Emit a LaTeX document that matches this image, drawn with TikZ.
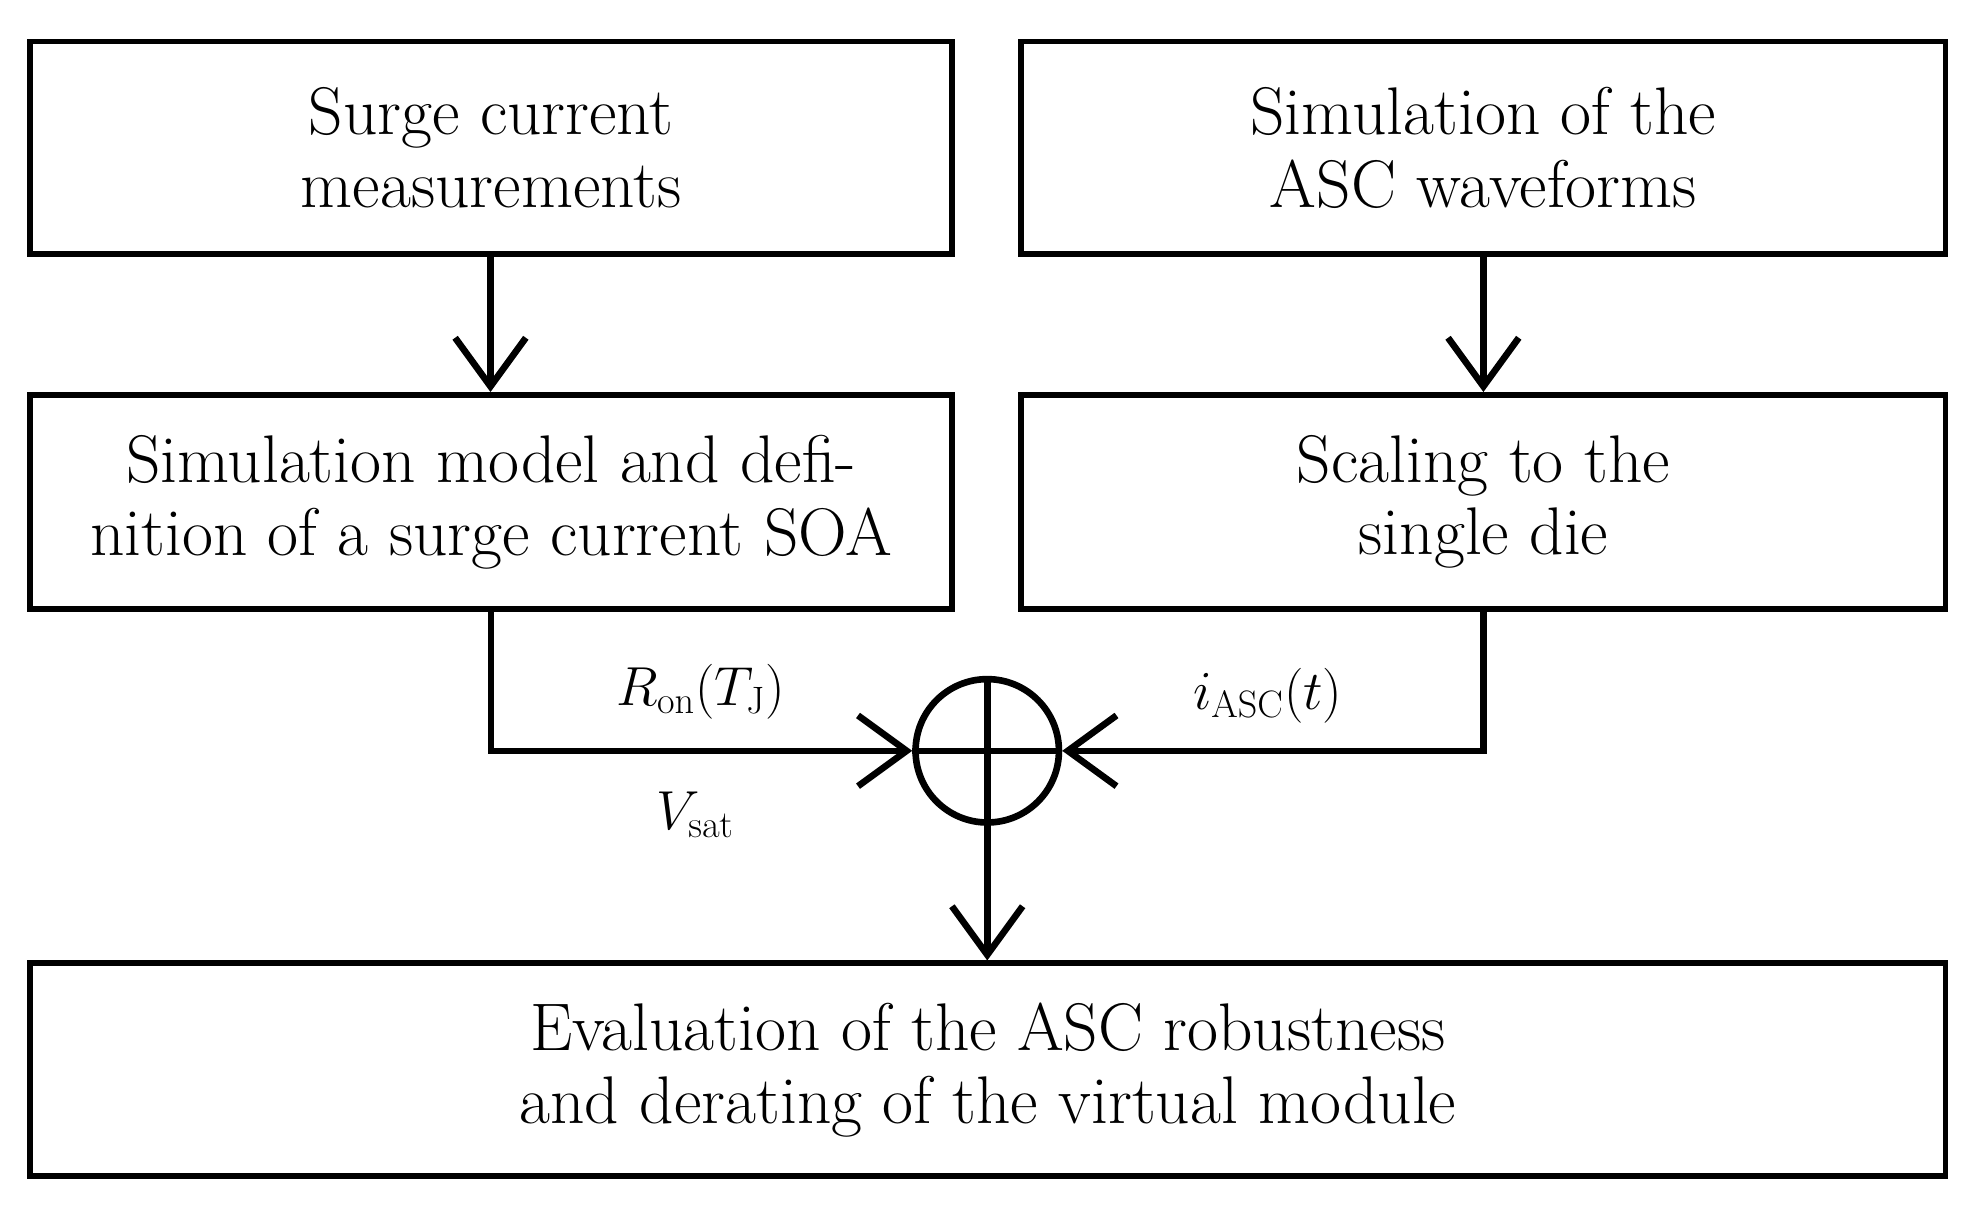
\documentclass[tikz,border=0pt]{standalone}
\usetikzlibrary{arrows.meta}
\begin{document}
\begin{tikzpicture}[x=0.02cm,y=-0.02cm,
  box/.style={draw,line width=2.6pt,inner sep=0pt,align=center,font=\fontsize{30.5}{33}\selectfont},
  conn/.style={line width=3pt},
  arr/.style={conn,-{Straight Barb[length=22pt,width=32pt,line width=3pt]}},
  lbl/.style={font=\fontsize{26}{30}\selectfont}]
\useasboundingbox (0,0) rectangle (1568,959);
\node[box,minimum width=733*0.02cm,minimum height=169*0.02cm] (b1) at (390.5,117.5) {Surge current\\measurements};
\node[box,minimum width=735*0.02cm,minimum height=169*0.02cm] (b2) at (1179.5,117.5) {Simulation of the\\ASC waveforms};
\node[box,minimum width=733*0.02cm,minimum height=170*0.02cm] (b3) at (390.5,399) {Simulation model and defi-\\nition of a surge current SOA};
\node[box,minimum width=735*0.02cm,minimum height=170*0.02cm] (b4) at (1179.5,399) {Scaling to the\\single die};
\node[box,minimum width=1523*0.02cm,minimum height=169*0.02cm] (b5) at (785.5,850.5) {Evaluation of the ASC robustness\\and derating of the virtual module};
\node[draw,circle,line width=3pt,minimum size=114*0.02cm,inner sep=0pt] (c) at (785,597) {};
\draw[conn] (c.north) -- (c.south);
\draw[conn] (c.west) -- (c.east);
\draw[arr] (b1.south -| 390,0) -- (b3.north -| 390,0);
\draw[arr] (b2.south) -- (b4.north);
\draw[arr] (b3.south) |- (c.west);
\draw[arr] (b4.south) |- (c.east);
\draw[arr] (c.south) -- (b5.north -| c.south);
\node[lbl] (l1) at (557,550) {$R_{\mathrm{on}}\bigl(T_{\mathrm{J}}\bigr)$};
\node[lbl] (l2) at (553,648) {$V_{\mathrm{sat}}$};
\node[lbl] (l3) at (1008,553) {$i_{\mathrm{ASC}}(t)$};
\end{tikzpicture}
\end{document}
